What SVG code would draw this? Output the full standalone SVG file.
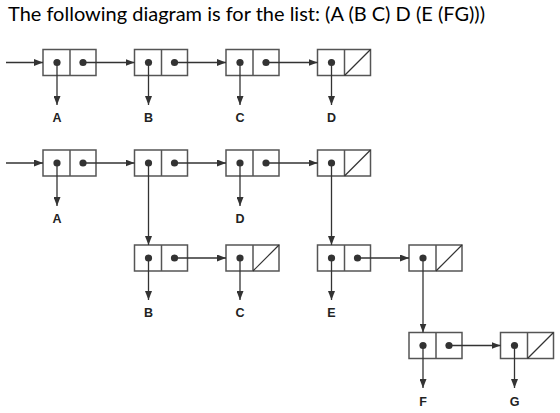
<svg xmlns="http://www.w3.org/2000/svg" width="560" height="413" viewBox="0 0 560 413">
<style>
.box{fill:#fff;stroke:#555;stroke-width:1.5}
.div{stroke:#555;stroke-width:1.5}
.nil{stroke:#333;stroke-width:1.2}
.dot{fill:#333}
.arr{stroke:#333;stroke-width:1.3;fill:none;marker-end:url(#ah)}
.lbl{font-family:"Liberation Sans",Arial,sans-serif;font-size:12.5px;font-weight:bold;fill:#222;text-anchor:middle}
.title{font-family:Lato,"Liberation Sans",sans-serif;font-size:20px;fill:#000}
</style>
<defs>
<marker id="ah" markerUnits="userSpaceOnUse" markerWidth="9" markerHeight="7" refX="9" refY="3.5" orient="auto">
<path d="M0,0 L9,3.5 L0,7 z" fill="#333"/>
</marker>
</defs>
<rect width="560" height="413" fill="#fff"/>
<text class="title" x="8" y="21" textLength="477" lengthAdjust="spacingAndGlyphs">The following diagram is for the list: (A (B C) D (E (FG)))</text>

<!-- list 1 -->
<g id="n1"><rect class="box" x="43" y="49.5" width="53" height="26"/><line class="div" x1="70" y1="49.5" x2="70" y2="75.5"/><circle class="dot" cx="57" cy="62.5" r="3.6"/><circle class="dot" cx="83" cy="62.5" r="3.6"/></g>
<g id="n2"><rect class="box" x="134.5" y="49.5" width="53" height="26"/><line class="div" x1="161.5" y1="49.5" x2="161.5" y2="75.5"/><circle class="dot" cx="148.5" cy="62.5" r="3.6"/><circle class="dot" cx="174.5" cy="62.5" r="3.6"/></g>
<g id="n3"><rect class="box" x="226" y="49.5" width="53" height="26"/><line class="div" x1="253" y1="49.5" x2="253" y2="75.5"/><circle class="dot" cx="240" cy="62.5" r="3.6"/><circle class="dot" cx="266" cy="62.5" r="3.6"/></g>
<g id="n4"><rect class="box" x="317.5" y="49.5" width="53" height="26"/><line class="div" x1="344.5" y1="49.5" x2="344.5" y2="75.5"/><line class="nil" x1="344.5" y1="75.5" x2="370.5" y2="49.5"/><circle class="dot" cx="331.5" cy="62.5" r="3.6"/></g>
<g id="a1"><text class="lbl" x="57" y="122">A</text></g>
<g id="b1"><text class="lbl" x="148.5" y="122">B</text></g>
<g id="c1"><text class="lbl" x="240" y="122">C</text></g>
<g id="d1"><text class="lbl" x="331.5" y="122">D</text></g>

<!-- list 2 -->
<g id="m1"><rect class="box" x="43" y="150" width="53" height="26"/><line class="div" x1="70" y1="150" x2="70" y2="176"/><circle class="dot" cx="57" cy="163" r="3.6"/><circle class="dot" cx="83" cy="163" r="3.6"/></g>
<g id="m2"><rect class="box" x="134.5" y="150" width="53" height="26"/><line class="div" x1="161.5" y1="150" x2="161.5" y2="176"/><circle class="dot" cx="148.5" cy="163" r="3.6"/><circle class="dot" cx="174.5" cy="163" r="3.6"/></g>
<g id="m3"><rect class="box" x="226" y="150" width="53" height="26"/><line class="div" x1="253" y1="150" x2="253" y2="176"/><circle class="dot" cx="240" cy="163" r="3.6"/><circle class="dot" cx="266" cy="163" r="3.6"/></g>
<g id="m4"><rect class="box" x="317.5" y="150" width="53" height="26"/><line class="div" x1="344.5" y1="150" x2="344.5" y2="176"/><line class="nil" x1="344.5" y1="176" x2="370.5" y2="150"/><circle class="dot" cx="331.5" cy="163" r="3.6"/></g>
<g id="a2"><text class="lbl" x="57" y="223">A</text></g>
<g id="d2"><text class="lbl" x="240" y="223">D</text></g>

<!-- (B C) -->
<g id="p1"><rect class="box" x="134.5" y="245" width="53" height="26"/><line class="div" x1="161.5" y1="245" x2="161.5" y2="271"/><circle class="dot" cx="148.5" cy="258" r="3.6"/><circle class="dot" cx="174.5" cy="258" r="3.6"/></g>
<g id="p2"><rect class="box" x="226" y="245" width="53" height="26"/><line class="div" x1="253" y1="245" x2="253" y2="271"/><line class="nil" x1="253" y1="271" x2="279" y2="245"/><circle class="dot" cx="240" cy="258" r="3.6"/></g>
<g id="b2"><text class="lbl" x="148.5" y="317">B</text></g>
<g id="c2"><text class="lbl" x="240" y="317">C</text></g>

<!-- (E (FG)) -->
<g id="q1"><rect class="box" x="317.5" y="245" width="53" height="26"/><line class="div" x1="344.5" y1="245" x2="344.5" y2="271"/><circle class="dot" cx="331.5" cy="258" r="3.6"/><circle class="dot" cx="357.5" cy="258" r="3.6"/></g>
<g id="q2"><rect class="box" x="409" y="245" width="53" height="26"/><line class="div" x1="436" y1="245" x2="436" y2="271"/><line class="nil" x1="436" y1="271" x2="462" y2="245"/><circle class="dot" cx="423" cy="258" r="3.6"/></g>
<g id="e2"><text class="lbl" x="331.5" y="317">E</text></g>

<!-- (FG) -->
<g id="s1"><rect class="box" x="409" y="332.5" width="53" height="26"/><line class="div" x1="436" y1="332.5" x2="436" y2="358.5"/><circle class="dot" cx="423" cy="345.5" r="3.6"/><circle class="dot" cx="449" cy="345.5" r="3.6"/></g>
<g id="s2"><rect class="box" x="500.5" y="332.5" width="53" height="26"/><line class="div" x1="527.5" y1="332.5" x2="527.5" y2="358.5"/><line class="nil" x1="527.5" y1="358.5" x2="553.5" y2="332.5"/><circle class="dot" cx="514.5" cy="345.5" r="3.6"/></g>
<g id="f2"><text class="lbl" x="423" y="406">F</text></g>
<g id="g2"><text class="lbl" x="514.5" y="406">G</text></g>

<g id="connectors">
<!-- list 1 -->
<line class="arr" x1="6" y1="62.5" x2="43" y2="62.5"/>
<line class="arr" x1="83" y1="62.5" x2="134.5" y2="62.5"/>
<line class="arr" x1="174.5" y1="62.5" x2="226" y2="62.5"/>
<line class="arr" x1="266" y1="62.5" x2="317.5" y2="62.5"/>
<line class="arr" x1="57" y1="62.5" x2="57" y2="105"/>
<line class="arr" x1="148.5" y1="62.5" x2="148.5" y2="105"/>
<line class="arr" x1="240" y1="62.5" x2="240" y2="105"/>
<line class="arr" x1="331.5" y1="62.5" x2="331.5" y2="105"/>
<!-- list 2 -->
<line class="arr" x1="6" y1="163" x2="43" y2="163"/>
<line class="arr" x1="83" y1="163" x2="134.5" y2="163"/>
<line class="arr" x1="174.5" y1="163" x2="226" y2="163"/>
<line class="arr" x1="266" y1="163" x2="317.5" y2="163"/>
<line class="arr" x1="57" y1="163" x2="57" y2="206"/>
<line class="arr" x1="148.5" y1="163" x2="148.5" y2="245"/>
<line class="arr" x1="240" y1="163" x2="240" y2="206"/>
<line class="arr" x1="331.5" y1="163" x2="331.5" y2="245"/>
<!-- row 3 -->
<line class="arr" x1="174.5" y1="258" x2="226" y2="258"/>
<line class="arr" x1="148.5" y1="258" x2="148.5" y2="300"/>
<line class="arr" x1="240" y1="258" x2="240" y2="300"/>
<line class="arr" x1="357.5" y1="258" x2="409" y2="258"/>
<line class="arr" x1="331.5" y1="258" x2="331.5" y2="300"/>
<line class="arr" x1="423" y1="258" x2="423" y2="332.5"/>
<!-- row 4 -->
<line class="arr" x1="449" y1="345.5" x2="500.5" y2="345.5"/>
<line class="arr" x1="423" y1="345.5" x2="423" y2="388"/>
<line class="arr" x1="514.5" y1="345.5" x2="514.5" y2="388"/>
</g>
</svg>
